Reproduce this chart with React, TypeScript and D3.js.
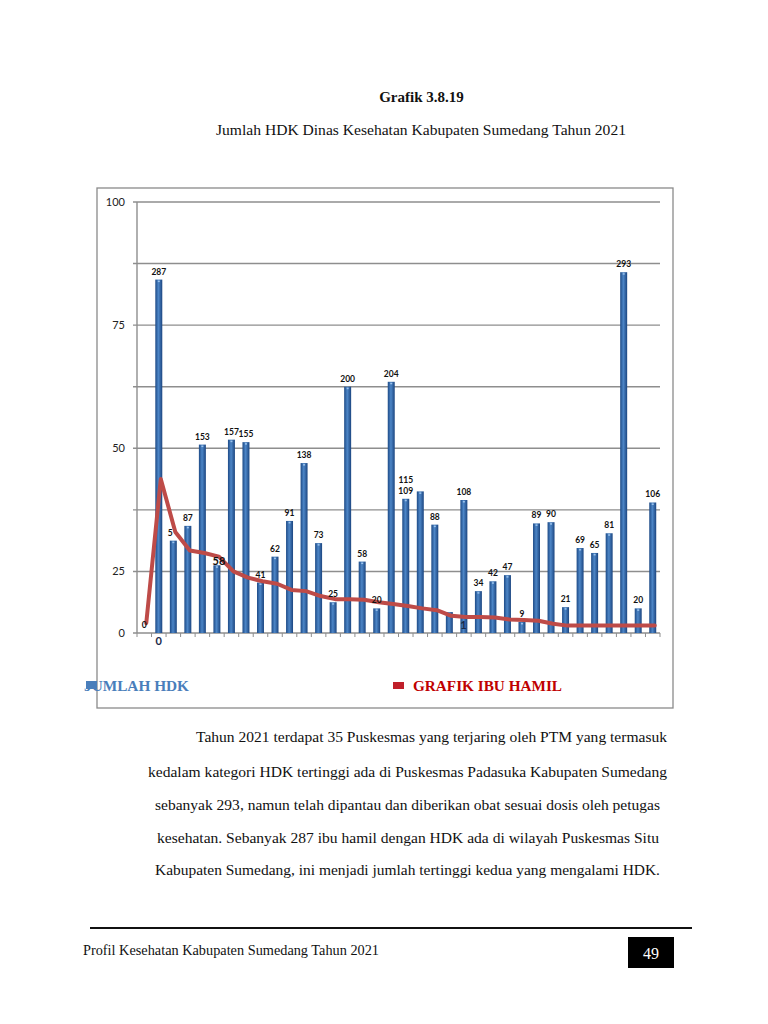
import React from "react";
import * as d3 from "d3";

// ---- data ----
const hdkValues = [0, 287, 75, 87, 153, 55, 157, 155, 41, 62, 91, 138, 73, 25, 200, 58, 20, 204, 109, 115, 88, 17, 108, 34, 42, 47, 9, 89, 90, 21, 69, 65, 81, 293, 20, 106];
const hdkLabels = ["0", "287", "5", "87", "153", "58", "157", "155", "41", "62", "91", "138", "73", "25", "200", "58", "20", "204", "109", "115", "88", "1", "108", "34", "42", "47", "9", "89", "90", "21", "69", "65", "81", "293", "20", "106"];
const ibuHamilValues = [8, 125, 82, 67, 65, 62, 50, 45, 42, 40, 35, 34, 30, 27.5, 27.5, 27, 25, 23.5, 22, 20, 18.5, 14, 13, 13, 12.5, 11, 10.5, 10, 7.5, 6, 6, 6, 6, 6, 6, 6];
const gridValues = [0, 50, 100, 150, 200, 250, 300, 350];
const yTickValues = [0, 50, 150, 250, 350];
const yTickLabels = ["0", "25", "50", "75", "100"];

const title = "Grafik 3.8.19";
const subtitle = "Jumlah HDK Dinas Kesehatan Kabupaten Sumedang Tahun 2021";
const legendBars = "JUMLAH HDK";
const legendLine = "GRAFIK IBU HAMIL";
const paragraph = [
  "Tahun 2021 terdapat 35 Puskesmas yang terjaring oleh PTM yang termasuk",
  "kedalam kategori HDK tertinggi ada di Puskesmas Padasuka Kabupaten Sumedang",
  "sebanyak 293, namun telah dipantau dan diberikan obat sesuai dosis oleh petugas",
  "kesehatan. Sebanyak 287 ibu hamil dengan HDK ada di wilayah Puskesmas Situ",
  "Kabupaten Sumedang, ini menjadi jumlah tertinggi kedua yang mengalami HDK.",
];
const footerText = "Profil Kesehatan Kabupaten Sumedang Tahun 2021";
const pageNumber = "49";

// ---- layout ----
const W = 768;
const H = 1024;
const SERIF = "Liberation Serif, DejaVu Serif, Times New Roman, serif";
const SANS = "Lato, Liberation Sans, sans-serif";
const plot = { left: 137, right: 660, top: 202, bottom: 633 };
const paraLayout = [
  { x: 196, w: 471, y: 742 },
  { x: 148, w: 519, y: 777 },
  { x: 155, w: 505, y: 810 },
  { x: 157, w: 502, y: 843 },
  { x: 155, w: 505, y: 875 },
];
// label nudges for misplaced data labels in the original
const labelNudge: Record<number, { dx: number; dy: number; big?: boolean }> = {
  5: { dx: 2, dy: 5, big: true },
  19: { dx: -14.5, dy: -3 },
  21: { dx: 14, dy: 22, big: true },
  2: { dx: -3, dy: 0 },
};

export default function App() {
  const idx = hdkValues.map((_, i) => i);
  const x = d3
    .scaleBand<number>()
    .domain(idx)
    .range([plot.left, plot.right])
    .paddingInner(0.52)
    .paddingOuter(0.26);
  const y = d3.scaleLinear().domain([0, 350]).range([plot.bottom, plot.top]);
  const cx = (i: number) => (x(i) as number) + x.bandwidth() / 2;
  const step = x.step();

  const line = d3
    .line<number>()
    .x((_, i) => cx(i) + 2)
    .y((d) => y(d))
    .curve(d3.curveLinear);

  const boundaries = d3.range(hdkValues.length + 1).map((i) => plot.left + i * step);

  return (
    <svg
      width={W}
      height={H}
      viewBox={`0 0 ${W} ${H}`}
      style={{ position: "absolute", left: 0, top: 0, background: "#fff" }}
    >
      <defs>
        <linearGradient id="barGrad" x1="0" x2="1" y1="0" y2="0">
          <stop offset="0%" stopColor="#1d4a86" />
          <stop offset="45%" stopColor="#4d86c7" />
          <stop offset="100%" stopColor="#1b4580" />
        </linearGradient>
      </defs>
      <rect x={0} y={0} width={W} height={H} fill="#fff" />

      {/* titles */}
      <text x={421.5} y={102} textAnchor="middle" style={{ fontFamily: SERIF }} fontWeight="bold" fontSize={15} fill="#111">
        {title}
      </text>
      <text x={216} y={135} textLength={410} lengthAdjust="spacingAndGlyphs" style={{ fontFamily: SERIF }} fontSize={15.5} fill="#111">
        {subtitle}
      </text>

      {/* chart frame */}
      <rect x={97} y={188} width={576} height={520} fill="none" stroke="#8a8a8a" strokeWidth={1.3} />

      {/* gridlines */}
      {gridValues.map((v) => (
        <line key={`g${v}`} x1={plot.left - 4} x2={plot.right} y1={y(v)} y2={y(v)} stroke="#8e8e8e" strokeWidth={1.4} />
      ))}
      {/* y axis */}
      <line x1={plot.left} x2={plot.left} y1={plot.top} y2={plot.bottom} stroke="#8e8e8e" strokeWidth={1.4} />
      {yTickValues.map((v, i) => (
        <text key={`yt${v}`} x={125} y={y(v) + 4} textAnchor="end" style={{ fontFamily: SANS }} fontSize={11} fill="#222">
          {yTickLabels[i]}
        </text>
      ))}
      {/* x axis ticks */}
      {boundaries.map((b, i) => (
        <line key={`xt${i}`} x1={b} x2={b} y1={plot.bottom} y2={plot.bottom + 4} stroke="#8e8e8e" strokeWidth={1} />
      ))}

      {/* bars */}
      {hdkValues.map((v, i) => (
        <g key={`b${i}`}>
          <rect
            x={x(i)}
            y={y(v)}
            width={x.bandwidth()}
            height={plot.bottom - y(v)}
            fill="url(#barGrad)"
          />
          {v > 0 && (
            <rect x={cx(i) - 1} y={y(v) + 1} width={2} height={1.5} fill="#9cc3ec" />
          )}
        </g>
      ))}

      {/* line series */}
      <path
        d={line(ibuHamilValues) || ""}
        fill="none"
        stroke="#BE4B48"
        strokeWidth={4}
        strokeLinejoin="round"
        strokeLinecap="round"
      />

      {/* data labels */}
      {hdkValues.map((v, i) => {
        const n = labelNudge[i] || { dx: 0, dy: 0 };
        return (
          <text
            key={`l${i}`}
            x={cx(i) + n.dx}
            y={y(v) - 5 + n.dy}
            textAnchor="middle"
            style={{ fontFamily: SANS }}
            fontWeight="bold"
            fontSize={n.big ? 11 : 8.5}
            fill={i === 21 ? "#1a2a4a" : "#111"}
          >
            {hdkLabels[i]}
          </text>
        );
      })}
      {/* stray zero label below first bar */}
      <text x={cx(1)} y={plot.bottom + 12} textAnchor="middle" style={{ fontFamily: SANS }} fontWeight="bold" fontSize={11} fill="#1a2a4a">
        0
      </text>

      {/* legend */}
      <text x={84} y={691} textLength={105} lengthAdjust="spacingAndGlyphs" style={{ fontFamily: SERIF }} fontWeight="bold" fontSize={15} fill="#4a7ebb">
        {legendBars}
      </text>
      <rect x={86} y={681} width={11} height={8} fill="#4a7ebb" />
      <rect x={393} y={682} width={11} height={7} fill="#c0202a" />
      <text x={413} y={691} textLength={149} lengthAdjust="spacingAndGlyphs" style={{ fontFamily: SERIF }} fontWeight="bold" fontSize={15} fill="#c00000">
        {legendLine}
      </text>

      {/* paragraph */}
      {paragraph.map((t, i) => (
        <text
          key={`p${i}`}
          x={paraLayout[i].x}
          y={paraLayout[i].y}
          textLength={paraLayout[i].w}
          lengthAdjust="spacingAndGlyphs"
          style={{ fontFamily: SERIF }}
          fontSize={15}
          fill="#111"
        >
          {t}
        </text>
      ))}

      {/* footer */}
      <line x1={90} x2={692} y1={928} y2={928} stroke="#111" strokeWidth={2} />
      <text x={83} y={955} textLength={296} lengthAdjust="spacingAndGlyphs" style={{ fontFamily: SERIF }} fontSize={14.5} fill="#111">
        {footerText}
      </text>
      <rect x={628} y={937} width={46} height={31} fill="#000" />
      <text x={651} y={959} textAnchor="middle" style={{ fontFamily: SERIF }} fontSize={16} fill="#fff">
        {pageNumber}
      </text>
    </svg>
  );
}
